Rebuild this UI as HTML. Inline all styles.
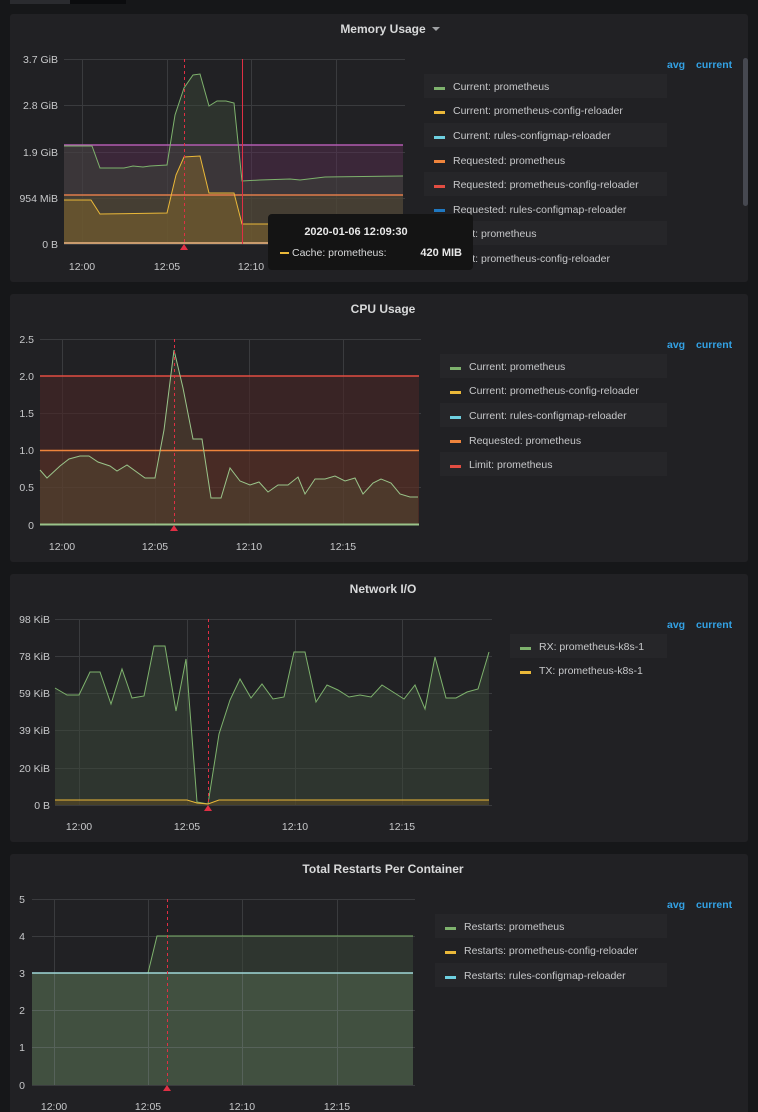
<!DOCTYPE html>
<html><head><meta charset="utf-8"><style>
html,body{margin:0;padding:0;background:#161719;width:758px;height:1112px;overflow:hidden}
svg{display:block;font-family:"Liberation Sans",sans-serif}
</style></head><body>
<svg width="758" height="1112" viewBox="0 0 758 1112" xmlns="http://www.w3.org/2000/svg">
<rect width="758" height="1112" fill="#161719"/>
<rect x="10" y="0" width="116" height="4" fill="#0b0c0e"/>
<rect x="10" y="0" width="60" height="4" fill="#2a2b2f"/>
<!-- panels -->
<rect x="10" y="14" width="738" height="268" rx="3" fill="#212124"/>
<rect x="10" y="294" width="738" height="268" rx="3" fill="#212124"/>
<rect x="10" y="574" width="738" height="268" rx="3" fill="#212124"/>
<rect x="10" y="854" width="738" height="270" rx="3" fill="#212124"/>
<g font-size="12" font-weight="bold" fill="#d8d9da" text-anchor="middle">
<text x="383" y="33">Memory Usage</text><path d="M432 27l4 4 4-4z" fill="#9fa1a4"/>
<text x="383" y="313">CPU Usage</text>
<text x="383" y="593">Network I/O</text>
<text x="383" y="873">Total Restarts Per Container</text>
</g>
<!-- ===== MEMORY ===== -->
<g stroke="#3a3b3e" stroke-width="1">
<line x1="64" y1="59.5" x2="405" y2="59.5"/><line x1="64" y1="105.5" x2="405" y2="105.5"/><line x1="64" y1="152.5" x2="405" y2="152.5"/><line x1="64" y1="198.5" x2="405" y2="198.5"/><line x1="64" y1="244.5" x2="405" y2="244.5"/>
<line x1="82.5" y1="59" x2="82.5" y2="244"/><line x1="167.5" y1="59" x2="167.5" y2="244"/><line x1="251.5" y1="59" x2="251.5" y2="244"/><line x1="336.5" y1="59" x2="336.5" y2="244"/>
</g>
<rect x="64" y="145" width="339" height="50" fill="#5a2e55" opacity="0.45"/>
<rect x="64" y="195" width="339" height="49" fill="#6b4535" opacity="0.6"/>
<polygon fill="#3b4a3a" opacity="0.45" points="64,146 92,146 100,168 124,168 133,166 143,167 150,166 167,165 175,115 184,88 193,75 200,74 209,106 217,101 226,101 234,103 242,181 260,180 290,179 300,180 325,177 403,176 403,244 64,244"/>
<polygon fill="#8a6a2a" opacity="0.45" points="64,200 91,200 100,214 167,213 176,175 184,157 200,156 209,193 234,193 242,224 403,224 403,244 64,244"/>
<line x1="64" y1="145" x2="403" y2="145" stroke="#b25bb0" stroke-width="1.5"/>
<line x1="64" y1="195" x2="403" y2="195" stroke="#e07b4a" stroke-width="1.5"/>
<line x1="64" y1="243" x2="403" y2="243" stroke="#c99b6d" stroke-width="2"/>
<polyline fill="none" stroke="#7eb26d" stroke-width="1" points="64,146 92,146 100,168 124,168 133,166 143,167 150,166 167,165 175,115 184,88 193,75 200,74 209,106 217,101 226,101 234,103 242,181 260,180 290,179 300,180 325,177 403,176"/>
<polyline fill="none" stroke="#eab839" stroke-width="1" points="64,200 91,200 100,214 167,213 176,175 184,157 200,156 209,193 234,193 242,224 403,224"/>
<line x1="184.5" y1="59" x2="184.5" y2="244" stroke="#e02f44" stroke-dasharray="3,3"/>
<line x1="242.5" y1="59" x2="242.5" y2="244" stroke="#e02f44"/>
<path d="M180 250l4-6 4 6z" fill="#e02f44"/>
<g font-size="10.5" fill="#c7c8ca" text-anchor="end">
<text x="58" y="63">3.7 GiB</text><text x="58" y="109">2.8 GiB</text><text x="58" y="156">1.9 GiB</text><text x="58" y="202">954 MiB</text><text x="58" y="248">0 B</text>
</g>
<g font-size="10.5" fill="#c7c8ca" text-anchor="middle">
<text x="82" y="270">12:00</text><text x="167" y="270">12:05</text><text x="251" y="270">12:10</text>
</g>
<!-- memory legend -->
<g font-size="10.5" font-weight="bold" fill="#33a2e5"><text x="667" y="68">avg</text><text x="696" y="68">current</text></g>
<rect x="743" y="58" width="5" height="148" rx="2.5" fill="#464850"/>
<g fill="#262629"><rect x="424" y="74" width="243" height="24"/><rect x="424" y="123" width="243" height="24"/><rect x="424" y="172" width="243" height="24"/><rect x="424" y="221" width="243" height="24"/></g>
<g font-size="10.5" fill="#c7c8ca">
<rect x="434" y="87" width="11" height="3" fill="#7eb26d"/><text x="453" y="90">Current: prometheus</text>
<rect x="434" y="111" width="11" height="3" fill="#eab839"/><text x="453" y="114">Current: prometheus-config-reloader</text>
<rect x="434" y="136" width="11" height="3" fill="#6ed0e0"/><text x="453" y="139">Current: rules-configmap-reloader</text>
<rect x="434" y="160" width="11" height="3" fill="#ef843c"/><text x="453" y="164">Requested: prometheus</text>
<rect x="434" y="185" width="11" height="3" fill="#e24d42"/><text x="453" y="188">Requested: prometheus-config-reloader</text>
<rect x="434" y="209" width="11" height="3" fill="#1f78c1"/><text x="453" y="213">Requested: rules-configmap-reloader</text>
<text x="453" y="237">Limit: prometheus</text>
<text x="453" y="262">Limit: prometheus-config-reloader</text>
</g>
<!-- tooltip -->
<rect x="268" y="214" width="205" height="56" rx="4" fill="#141414"/>
<text x="356" y="235" font-size="11" font-weight="bold" fill="#e8e8e8" text-anchor="middle">2020-01-06 12:09:30</text>
<rect x="280" y="252" width="9" height="2" fill="#eab839"/>
<text x="292" y="256" font-size="10.5" fill="#d8d9da">Cache: prometheus:</text>
<text x="462" y="256" font-size="11" font-weight="bold" fill="#e8e8e8" text-anchor="end">420 MIB</text>

<!-- ===== CPU ===== -->
<g stroke="#3a3b3e">
<line x1="40" y1="339.5" x2="421" y2="339.5"/><line x1="40" y1="413.5" x2="421" y2="413.5"/><line x1="40" y1="487.5" x2="421" y2="487.5"/>
<line x1="62.5" y1="339" x2="62.5" y2="525"/><line x1="155.5" y1="339" x2="155.5" y2="525"/><line x1="249.5" y1="339" x2="249.5" y2="525"/><line x1="343.5" y1="339" x2="343.5" y2="525"/>
</g>
<rect x="40" y="376" width="379" height="74" fill="#4a2626" opacity="0.6"/>
<rect x="40" y="450" width="379" height="75" fill="#5a3026" opacity="0.7"/>
<polygon fill="#5a5a3a" opacity="0.3" points="40,470 47,478 60,466 69,459 80,456 89,456 98,462 110,466 117,471 127,465 145,478 155,478 164,430 174,350 183,388 193,439 202,439 211,498 221,498 230,468 240,481 250,485 259,482 268,492 278,485 288,485 298,477 305,494 315,479 325,479 335,476 345,481 355,478 363,494 373,483 381,479 391,483 400,494 410,497 418,497 418,525 40,525"/>
<line x1="40" y1="376" x2="419" y2="376" stroke="#e24d42" stroke-width="1.5"/>
<line x1="40" y1="450.5" x2="419" y2="450.5" stroke="#ef843c" stroke-width="1.5"/>
<line x1="40" y1="524.5" x2="419" y2="524.5" stroke="#9ac48a" stroke-width="2"/>
<polyline fill="none" stroke="#9ac48a" stroke-width="1" points="40,470 47,478 60,466 69,459 80,456 89,456 98,462 110,466 117,471 127,465 145,478 155,478 164,430 174,350 183,388 193,439 202,439 211,498 221,498 230,468 240,481 250,485 259,482 268,492 278,485 288,485 298,477 305,494 315,479 325,479 335,476 345,481 355,478 363,494 373,483 381,479 391,483 400,494 410,497 418,497"/>
<line x1="174.5" y1="339" x2="174.5" y2="525" stroke="#e02f44" stroke-dasharray="3,3"/>
<path d="M170 531l4-6 4 6z" fill="#e02f44"/>
<g font-size="10.5" fill="#c7c8ca" text-anchor="end">
<text x="34" y="343">2.5</text><text x="34" y="380">2.0</text><text x="34" y="417">1.5</text><text x="34" y="454">1.0</text><text x="34" y="491">0.5</text><text x="34" y="529">0</text>
</g>
<g font-size="10.5" fill="#c7c8ca" text-anchor="middle">
<text x="62" y="550">12:00</text><text x="155" y="550">12:05</text><text x="249" y="550">12:10</text><text x="343" y="550">12:15</text>
</g>
<g font-size="10.5" font-weight="bold" fill="#33a2e5"><text x="667" y="348">avg</text><text x="696" y="348">current</text></g>
<g fill="#262629"><rect x="440" y="354" width="227" height="24"/><rect x="440" y="403" width="227" height="24"/><rect x="440" y="452" width="227" height="24"/></g>
<g font-size="10.5" fill="#c7c8ca">
<rect x="450" y="367" width="11" height="3" fill="#7eb26d"/><text x="469" y="370">Current: prometheus</text>
<rect x="450" y="391" width="11" height="3" fill="#eab839"/><text x="469" y="394">Current: prometheus-config-reloader</text>
<rect x="450" y="416" width="11" height="3" fill="#6ed0e0"/><text x="469" y="419">Current: rules-configmap-reloader</text>
<rect x="450" y="440" width="11" height="3" fill="#ef843c"/><text x="469" y="444">Requested: prometheus</text>
<rect x="450" y="465" width="11" height="3" fill="#e24d42"/><text x="469" y="468">Limit: prometheus</text>
</g>

<!-- ===== NETWORK ===== -->
<g stroke="#3a3b3e">
<line x1="55" y1="619.5" x2="492" y2="619.5"/><line x1="55" y1="656.5" x2="492" y2="656.5"/><line x1="55" y1="693.5" x2="492" y2="693.5"/><line x1="55" y1="730.5" x2="492" y2="730.5"/><line x1="55" y1="768.5" x2="492" y2="768.5"/><line x1="55" y1="805.5" x2="492" y2="805.5"/>
<line x1="79.5" y1="619" x2="79.5" y2="805"/><line x1="187.5" y1="619" x2="187.5" y2="805"/><line x1="295.5" y1="619" x2="295.5" y2="805"/><line x1="402.5" y1="619" x2="402.5" y2="805"/>
</g>
<polygon fill="#3b4a3a" opacity="0.5" points="55,688 67,695 79,695 90,672 100,672 111,704 122,669 132,698 144,696 154,646 165,646 176,711 186,659 197,802 208,804 219,734 230,700 240,679 251,698 262,684 273,699 284,697 294,652 305,652 316,702 327,685 338,690 349,697 360,695 371,697 382,685 393,692 404,699 415,685 425,709 435,657 446,698 456,698 467,692 478,689 489,652 489,805 55,805"/>
<polygon fill="#5a4a25" opacity="0.6" points="55,800 187,800 197,803 208,804 219,800 489,800 489,805 55,805"/>
<polyline fill="none" stroke="#7eb26d" stroke-width="1" points="55,688 67,695 79,695 90,672 100,672 111,704 122,669 132,698 144,696 154,646 165,646 176,711 186,659 197,802 208,804 219,734 230,700 240,679 251,698 262,684 273,699 284,697 294,652 305,652 316,702 327,685 338,690 349,697 360,695 371,697 382,685 393,692 404,699 415,685 425,709 435,657 446,698 456,698 467,692 478,689 489,652"/>
<polyline fill="none" stroke="#eab839" stroke-width="1" points="55,800 187,800 197,803 208,804 219,800 489,800"/>
<line x1="208.5" y1="619" x2="208.5" y2="805" stroke="#e02f44" stroke-dasharray="3,3"/>
<path d="M204 811l4-6 4 6z" fill="#e02f44"/>
<g font-size="10.5" fill="#c7c8ca" text-anchor="end">
<text x="50" y="623">98 KiB</text><text x="50" y="660">78 KiB</text><text x="50" y="697">59 KiB</text><text x="50" y="734">39 KiB</text><text x="50" y="772">20 KiB</text><text x="50" y="809">0 B</text>
</g>
<g font-size="10.5" fill="#c7c8ca" text-anchor="middle">
<text x="79" y="830">12:00</text><text x="187" y="830">12:05</text><text x="295" y="830">12:10</text><text x="402" y="830">12:15</text>
</g>
<g font-size="10.5" font-weight="bold" fill="#33a2e5"><text x="667" y="628">avg</text><text x="696" y="628">current</text></g>
<rect x="510" y="634" width="157" height="24" fill="#262629"/>
<g font-size="10.5" fill="#c7c8ca">
<rect x="520" y="647" width="11" height="3" fill="#7eb26d"/><text x="539" y="650">RX: prometheus-k8s-1</text>
<rect x="520" y="671" width="11" height="3" fill="#eab839"/><text x="539" y="674">TX: prometheus-k8s-1</text>
</g>

<!-- ===== RESTARTS ===== -->
<g stroke="#3a3b3e">
<line x1="32" y1="899.5" x2="415" y2="899.5"/><line x1="32" y1="936.5" x2="415" y2="936.5"/><line x1="32" y1="1010.5" x2="415" y2="1010.5"/><line x1="32" y1="1047.5" x2="415" y2="1047.5"/><line x1="32" y1="1085.5" x2="415" y2="1085.5"/>
<line x1="54.5" y1="899" x2="54.5" y2="1085"/><line x1="148.5" y1="899" x2="148.5" y2="1085"/><line x1="242.5" y1="899" x2="242.5" y2="1085"/><line x1="337.5" y1="899" x2="337.5" y2="1085"/>
</g>
<polygon fill="#3b4a3a" opacity="0.5" points="148,973 157,936 413,936 413,973"/>
<rect x="32" y="973" width="381" height="112" fill="#415040"/>
<g stroke="#3f4a40" stroke-opacity="0"></g>
<line x1="32" y1="1010.5" x2="413" y2="1010.5" stroke="#56625a"/><line x1="32" y1="1047.5" x2="413" y2="1047.5" stroke="#56625a"/>
<line x1="54.5" y1="973" x2="54.5" y2="1085" stroke="#56625a"/><line x1="148.5" y1="973" x2="148.5" y2="1085" stroke="#56625a"/><line x1="242.5" y1="973" x2="242.5" y2="1085" stroke="#56625a"/><line x1="337.5" y1="973" x2="337.5" y2="1085" stroke="#56625a"/>
<polyline fill="none" stroke="#7eb26d" stroke-width="1" points="32,973 148,973 157,936 413,936"/>
<line x1="32" y1="973" x2="413" y2="973" stroke="#9fd8d8" stroke-width="1.5"/>
<line x1="167.5" y1="899" x2="167.5" y2="1085" stroke="#e02f44" stroke-dasharray="3,3"/>
<path d="M163 1091l4-6 4 6z" fill="#e02f44"/>
<g font-size="10.5" fill="#c7c8ca" text-anchor="end">
<text x="25" y="903">5</text><text x="25" y="940">4</text><text x="25" y="977">3</text><text x="25" y="1014">2</text><text x="25" y="1051">1</text><text x="25" y="1089">0</text>
</g>
<g font-size="10.5" fill="#c7c8ca" text-anchor="middle">
<text x="54" y="1110">12:00</text><text x="148" y="1110">12:05</text><text x="242" y="1110">12:10</text><text x="337" y="1110">12:15</text>
</g>
<g font-size="10.5" font-weight="bold" fill="#33a2e5"><text x="667" y="908">avg</text><text x="696" y="908">current</text></g>
<g fill="#262629"><rect x="435" y="914" width="232" height="24"/><rect x="435" y="963" width="232" height="24"/></g>
<g font-size="10.5" fill="#c7c8ca">
<rect x="445" y="927" width="11" height="3" fill="#7eb26d"/><text x="464" y="930">Restarts: prometheus</text>
<rect x="445" y="951" width="11" height="3" fill="#eab839"/><text x="464" y="954">Restarts: prometheus-config-reloader</text>
<rect x="445" y="976" width="11" height="3" fill="#6ed0e0"/><text x="464" y="979">Restarts: rules-configmap-reloader</text>
</g>
</svg>
</body></html>
